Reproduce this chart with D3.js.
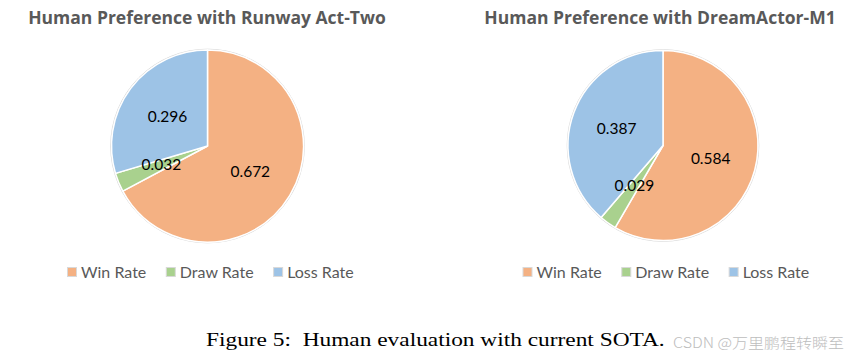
<!DOCTYPE html>
<html>
<head>
<meta charset="utf-8">
<script src="https://cdn.jsdelivr.net/npm/d3@7"></script>
<style>
  html, body { margin: 0; padding: 0; background: #fff; }
  svg { display: block; }
</style>
</head>
<body>
<svg id="chart" width="848" height="356"></svg>
<script>
// ---- data ----
const categories = ["Win Rate", "Draw Rate", "Loss Rate"];
const chartTitles = ["Human Preference with Runway Act-Two", "Human Preference with DreamActor-M1"];
const runwayValues = [0.672, 0.032, 0.296];
const dreamActorValues = [0.584, 0.029, 0.387];
const caption = "Figure 5:  Human evaluation with current SOTA.";
const watermark = "CSDN @万里鹏程转瞬至";

// ---- styles ----
const colors = d3.scaleOrdinal().domain(categories).range(["#F4B183", "#A9D18E", "#9DC3E6"]);
const svg = d3.select("#chart");

const panels = [
  { title: chartTitles[0], values: runwayValues, cx: 207.5, cy: 146, r: 96, titleX: 207, legendX: 67 },
  { title: chartTitles[1], values: dreamActorValues, cx: 663, cy: 145.5, r: 95, titleX: 660, legendX: 522.5 }
];

const pie = d3.pie().sort(null).value(d => d.v);

panels.forEach(p => {
  const g = svg.append("g");
  g.append("text")
    .attr("x", p.titleX).attr("y", 24)
    .attr("text-anchor", "middle")
    .attr("font-family", "'Open Sans', 'Noto Sans', sans-serif")
    .attr("font-weight", 700)
    .attr("font-size", 17.5)
    .attr("fill", "#595959")
    .text(p.title);

  const data = p.values.map((v, i) => ({ v, c: categories[i] }));
  const arcs = pie(data);
  const arc = d3.arc().innerRadius(0).outerRadius(p.r);
  const labelArc = d3.arc().innerRadius(p.r * 0.52).outerRadius(p.r * 0.52);

  const pg = g.append("g").attr("transform", `translate(${p.cx},${p.cy})`);
  pg.append("circle").attr("r", p.r + 0.8).attr("fill", "none").attr("stroke", "#d9d9d9").attr("stroke-width", 1);
  pg.selectAll("path.slice").data(arcs).enter().append("path")
    .attr("class", "slice")
    .attr("d", arc)
    .attr("fill", d => colors(d.data.c))
    .attr("stroke", "#ffffff")
    .attr("stroke-width", 1.5)
    .attr("stroke-linejoin", "round");

  pg.selectAll("text.lbl").data(arcs).enter().append("text")
    .attr("class", "lbl")
    .attr("transform", d => `translate(${labelArc.centroid(d)})`)
    .attr("text-anchor", "middle")
    .attr("dy", "0.35em")
    .attr("font-family", "Lato, 'Open Sans', sans-serif")
    .attr("font-size", 15.5)
    .attr("fill", "#000")
    .text(d => d3.format(".3f")(d.data.v));

  // legend
  const lg = g.append("g").attr("transform", `translate(${p.legendX},272)`);
  let x = 0;
  categories.forEach((c, i) => {
    const item = lg.append("g").attr("transform", `translate(${x},0)`);
    item.append("rect").attr("x", 0.5).attr("y", -4.5).attr("width", 9).attr("height", 9)
      .attr("fill", colors(c)).attr("stroke", "#d9d9d9").attr("stroke-width", 1);
    const t = item.append("text").attr("x", 14).attr("y", 0).attr("dy", "0.35em")
      .attr("font-family", "Lato, 'Open Sans', sans-serif")
      .attr("font-size", 16)
      .attr("fill", "#595959")
      .text(c);
    x += 14 + t.node().getComputedTextLength() + 19.5;
  });
});

svg.append("text")
  .attr("transform", "translate(206,345.5) scale(1.23,1)")
  .attr("font-family", "'Liberation Serif', 'Times New Roman', serif")
  .attr("font-size", 19)
  .attr("fill", "#000")
  .attr("xml:space", "preserve")
  .style("white-space", "pre")
  .text(caption);

svg.append("text")
  .attr("x", 673).attr("y", 348)
  .attr("font-family", "'Noto Sans CJK SC', sans-serif")
  .attr("font-size", 14)
  .attr("font-weight", 300)
  .attr("textLength", 171)
  .attr("lengthAdjust", "spacingAndGlyphs")
  .attr("fill", "#bdbdbd")
  .text(watermark);
</script>
</body>
</html>
